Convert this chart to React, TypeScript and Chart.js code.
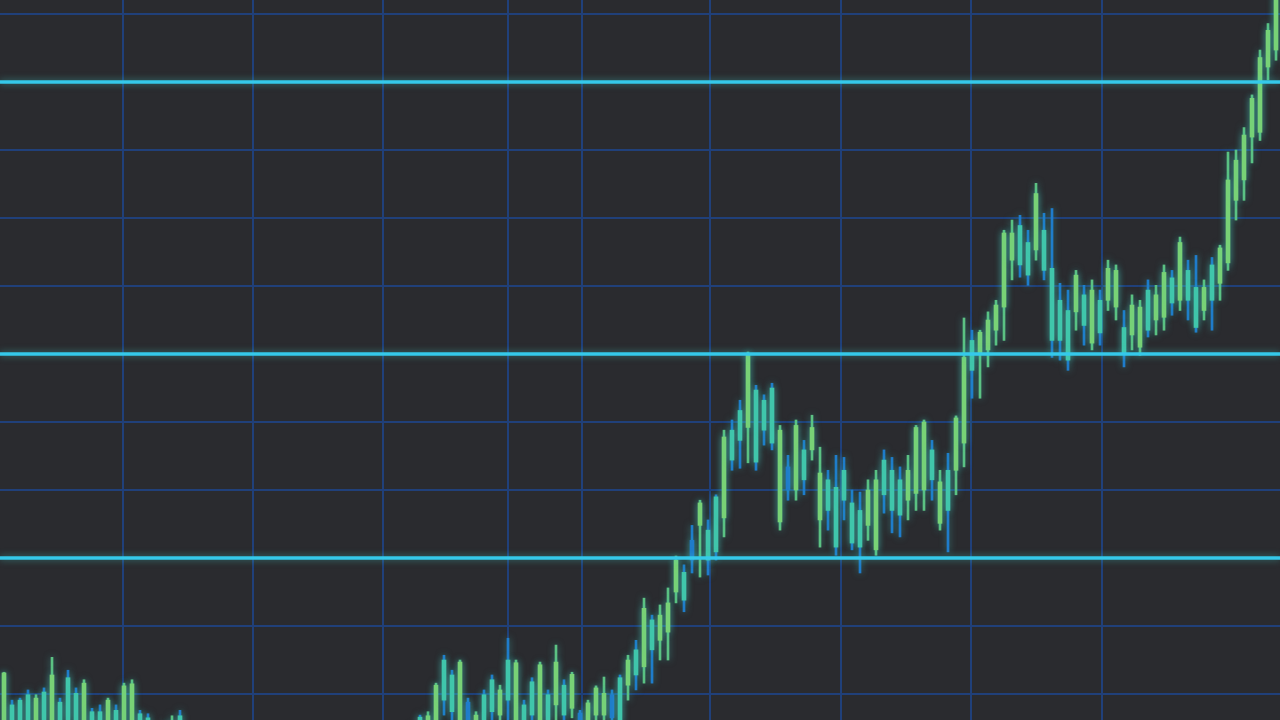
import React, { useEffect, useRef } from "react";
import { Chart, registerables } from "chart.js";

Chart.register(...registerables);

// OHLC price series (one candle per session)
const openPrices = [
  93.2, 98.4, 99.1, 99.9, 94.7, 100.3, 94.0, 98.8, 102.4, 100.1,
  94.0, 97.4, 97.4, 93.2, 97.6, 93.2, 93.5, 97.1, 96.5, 94.7,
  89.6, 91.0, 96.8, 94.0, 92.1, 85.9, 90.3, 89.6, 85.9, 88.8,
  88.1, 84.4, 87.4, 86.6, 83.2, 84.4, 88.1, 85.2, 85.9, 89.1,
  86.2, 86.6, 90.6, 87.4, 87.7, 91.5, 88.1, 88.5, 92.5, 89.1,
  89.6, 94.4, 96.6, 93.2, 94.7, 105.0, 102.8, 95.4, 98.8, 94.0,
  99.9, 102.1, 96.9, 105.0, 94.0, 98.4, 101.8, 94.0, 99.9, 98.4,
  101.3, 97.9, 97.2, 95.0, 96.9, 96.9, 99.9, 102.4, 101.3, 106.5,
  104.0, 110.9, 107.9, 109.1, 115.0, 117.9, 122.6, 124.8, 124.1, 129.0,
  125.9, 138.8, 141.7, 139.2, 144.7, 143.2, 145.0, 125.3, 133.4, 130.0,
  135.9, 135.9, 125.6, 131.5, 130.4, 132.9, 128.1, 127.0, 124.8, 121.2,
  134.4, 132.9, 131.5, 128.5, 129.5, 130.0, 135.9, 125.1, 132.9, 132.9,
  136.9, 152.0, 150.1, 150.6, 153.5, 156.9, 163.8, 168.9, 166.4, 165.3,
  168.2, 162.6, 157.9, 156.4, 156.2, 158.7, 151.6, 157.9, 157.9, 156.9,
  153.9, 152.8, 151.0, 159.4, 155.0, 155.4, 161.2, 157.9, 162.3, 159.8,
  156.4, 163.1, 160.4, 163.4, 172.6, 175.6, 181.9, 182.6, 192.2, 194.7,
];

const highPrices = [
  103.2, 99.1, 99.4, 100.6, 99.9, 100.9, 105.4, 99.4, 103.5, 100.9,
  102.1, 97.9, 98.4, 99.4, 98.4, 101.6, 102.1, 97.6, 97.1, 95.4,
  95.9, 96.8, 97.6, 95.0, 93.2, 92.5, 91.8, 90.6, 91.0, 90.3,
  89.1, 89.6, 88.8, 88.1, 88.5, 89.6, 89.1, 90.3, 91.0, 90.3,
  91.5, 92.1, 91.8, 92.9, 93.2, 92.5, 93.5, 94.0, 93.5, 94.7,
  95.0, 95.3, 96.9, 97.4, 101.6, 105.7, 103.5, 105.0, 99.4, 97.4,
  100.6, 102.8, 101.3, 108.2, 105.0, 99.1, 102.4, 104.7, 100.6, 107.2,
  102.1, 103.2, 97.6, 99.1, 101.2, 102.5, 100.6, 102.8, 105.7, 107.9,
  114.1, 111.6, 113.1, 115.6, 120.3, 119.0, 124.8, 128.5, 125.6, 129.3,
  138.8, 140.3, 143.2, 150.3, 145.4, 144.0, 145.7, 139.5, 135.1, 140.3,
  137.3, 141.0, 136.3, 132.9, 135.1, 134.8, 130.0, 129.7, 131.5, 132.9,
  135.9, 134.8, 133.4, 135.1, 139.5, 140.3, 137.3, 132.9, 135.4, 140.9,
  155.3, 153.5, 153.5, 156.2, 157.9, 168.2, 169.7, 170.4, 168.2, 175.1,
  170.7, 171.4, 160.4, 159.4, 162.3, 160.1, 160.9, 159.4, 163.8, 163.1,
  156.4, 158.7, 157.9, 160.9, 160.1, 163.1, 162.3, 167.2, 163.8, 164.5,
  160.9, 164.2, 166.0, 179.7, 180.0, 183.3, 188.1, 194.7, 198.6, 203.5,
];

const lowPrices = [
  91.8, 93.2, 92.5, 93.2, 92.5, 93.5, 92.5, 92.9, 94.0, 92.5,
  92.5, 91.8, 92.1, 91.8, 91.5, 91.5, 91.8, 90.3, 89.6, 88.8,
  88.1, 89.1, 90.3, 86.6, 85.2, 84.4, 82.9, 82.2, 83.7, 81.5,
  80.7, 82.2, 80.7, 80.0, 81.2, 82.2, 81.8, 82.9, 83.7, 83.2,
  84.4, 84.7, 84.1, 85.2, 85.9, 85.2, 86.2, 86.6, 85.9, 87.4,
  87.7, 88.1, 91.0, 91.8, 93.2, 96.9, 95.4, 94.0, 94.0, 92.5,
  94.7, 95.4, 95.4, 96.2, 92.5, 93.2, 95.0, 92.5, 94.7, 96.2,
  95.4, 96.5, 92.5, 93.5, 95.4, 95.4, 94.7, 94.7, 99.1, 100.6,
  101.6, 101.6, 105.0, 105.0, 113.4, 112.1, 117.8, 117.2, 117.5, 119.7,
  123.1, 132.9, 133.2, 134.0, 132.9, 136.6, 135.9, 124.1, 128.5, 128.5,
  129.3, 134.4, 121.6, 124.1, 120.4, 125.6, 121.2, 117.8, 122.6, 120.4,
  126.6, 123.7, 123.1, 125.6, 127.0, 127.0, 128.5, 124.1, 120.9, 129.3,
  133.4, 143.5, 143.5, 148.1, 151.3, 152.0, 160.9, 161.3, 160.1, 163.8,
  160.9, 149.5, 149.1, 147.6, 153.5, 151.3, 150.6, 151.3, 156.4, 155.0,
  148.1, 150.6, 149.8, 152.5, 152.8, 153.5, 155.7, 156.4, 155.0, 153.2,
  155.0, 153.5, 157.9, 162.3, 169.7, 172.6, 178.1, 181.4, 190.3, 193.2,
];

const closePrices = [
  103.1, 94.7, 94.0, 95.4, 99.4, 95.9, 102.8, 94.7, 96.2, 94.7,
  101.6, 93.2, 93.5, 99.1, 93.2, 101.2, 101.5, 92.5, 91.8, 90.3,
  95.0, 95.9, 92.1, 88.8, 87.4, 91.5, 85.2, 84.4, 90.0, 83.7,
  82.9, 88.5, 82.7, 82.2, 87.7, 88.8, 83.7, 89.1, 90.0, 85.2,
  90.6, 91.0, 85.9, 91.8, 92.1, 87.1, 92.6, 93.2, 88.1, 93.5,
  94.0, 90.3, 92.5, 96.8, 101.3, 99.1, 97.4, 104.7, 95.4, 96.9,
  96.2, 97.4, 100.6, 99.1, 104.6, 94.7, 96.9, 104.3, 96.2, 104.7,
  96.9, 102.9, 94.0, 98.7, 100.9, 100.1, 96.5, 95.9, 105.0, 102.8,
  112.6, 106.5, 111.6, 113.4, 119.7, 113.8, 119.7, 128.1, 119.7, 120.9,
  137.8, 134.4, 137.3, 150.1, 134.1, 138.8, 136.9, 138.8, 130.0, 139.5,
  131.5, 139.2, 132.5, 127.0, 121.6, 128.5, 122.2, 121.6, 130.0, 131.5,
  129.3, 127.0, 126.3, 132.9, 139.2, 140.0, 131.5, 131.2, 127.0, 140.6,
  149.5, 147.6, 153.2, 155.0, 157.2, 167.8, 167.8, 163.1, 161.6, 173.6,
  162.3, 152.0, 152.0, 149.1, 161.6, 154.2, 159.4, 153.1, 162.6, 162.3,
  150.1, 157.2, 156.9, 153.5, 158.7, 162.0, 157.5, 166.4, 157.9, 153.9,
  159.8, 157.9, 165.6, 175.6, 178.5, 182.2, 187.6, 193.6, 197.6, 202.8,
];

// horizontal support / resistance levels
const levelPrices = [120, 150, 190];

// price grid ticks
const priceTicks = [100, 110, 120, 130, 140, 150, 160, 170, 180, 190, 200];

// session separators (candle index positions)
const sessionBreaks = [14.9, 31.1, 47.4, 63, 72.3, 88.3, 104.6, 120.9, 137.3];

const PRICE_MIN = 96.18;
const PRICE_MAX = 202.06;

const GREEN = "#78d276";
const TEAL = "#40c6ab";
const BLUE = "#1f7ccb";
const GRID = "#20407a";
const LEVEL = "#35c9ea";
const BG = "#2a2b2f";

export default function App() {
  const canvasRef = useRef<HTMLCanvasElement>(null);

  useEffect(() => {
    const canvas = canvasRef.current;
    if (!canvas) return;
    const n = openPrices.length;
    const idx = openPrices.map((_, i) => i);

    const colorOf = (i: number) => {
      const o = openPrices[i];
      const c = closePrices[i];
      if (c >= o) return GREEN;
      return o - c > 3.5 ? TEAL : BLUE;
    };
    const wickColorOf = (i: number) => {
      const o = openPrices[i];
      const c = closePrices[i];
      if (c >= o) return "#5cc283";
      return BLUE;
    };

    const wicks = idx.map((i) => ({ x: i, y: [lowPrices[i], highPrices[i]] }));
    const bodies = idx.map((i) => ({
      x: i,
      y: [Math.min(openPrices[i], closePrices[i]), Math.max(openPrices[i], closePrices[i])],
    }));

    const glow = {
      id: "glow",
      beforeDatasetsDraw(chart: any) {
        const ctx = chart.ctx;
        ctx.save();
        ctx.shadowBlur = 7;
        ctx.shadowColor = "rgba(70,210,200,0.5)";
      },
      afterDatasetsDraw(chart: any) {
        chart.ctx.restore();
      },
    };

    const levelSets = levelPrices.map((v) => ({
      type: "line" as const,
      data: [
        { x: -0.5, y: v },
        { x: n - 0.5, y: v },
      ],
      borderColor: LEVEL,
      borderWidth: 3.5,
      pointRadius: 0,
      order: 0,
    }));

    const chart = new Chart(canvas, {
      type: "bar",
      data: {
        datasets: [
          ...levelSets,
          {
            type: "bar",
            data: bodies as any,
            backgroundColor: (c: any) => colorOf(c.dataIndex),
            barThickness: 4,
            grouped: false,
            borderWidth: 0,
            order: 1,
          },
          {
            type: "bar",
            data: wicks as any,
            backgroundColor: (c: any) => wickColorOf(c.dataIndex),
            barThickness: 2,
            grouped: false,
            borderWidth: 0,
            order: 2,
          },
        ] as any,
      },
      options: {
        animation: false,
        responsive: false,
        maintainAspectRatio: false,
        events: [],
        layout: { padding: 0 },
        plugins: { legend: { display: false }, tooltip: { enabled: false } },
        scales: {
          x: {
            type: "linear",
            min: -0.5,
            max: n - 0.5,
            offset: false,
            ticks: { display: false },
            grid: { color: GRID, lineWidth: 2, drawTicks: false, offset: false },
            border: { display: false },
            afterBuildTicks: (s: any) => {
              s.ticks = sessionBreaks.map((v) => ({ value: v }));
            },
          },
          y: {
            type: "linear",
            min: PRICE_MIN,
            max: PRICE_MAX,
            ticks: { display: false },
            grid: { color: GRID, lineWidth: 2, drawTicks: false },
            border: { display: false },
            afterBuildTicks: (s: any) => {
              s.ticks = priceTicks.map((v) => ({ value: v }));
            },
          },
        },
      } as any,
      plugins: [glow],
    });

    return () => chart.destroy();
  }, []);

  return (
    <div
      style={{
        position: "fixed",
        left: 0,
        top: 0,
        width: 1280,
        height: 720,
        background: BG,
        overflow: "hidden",
      }}
    >
      <canvas
        ref={canvasRef}
        width={1280}
        height={720}
        style={{ display: "block", filter: "blur(0.4px)" }}
      />
    </div>
  );
}
